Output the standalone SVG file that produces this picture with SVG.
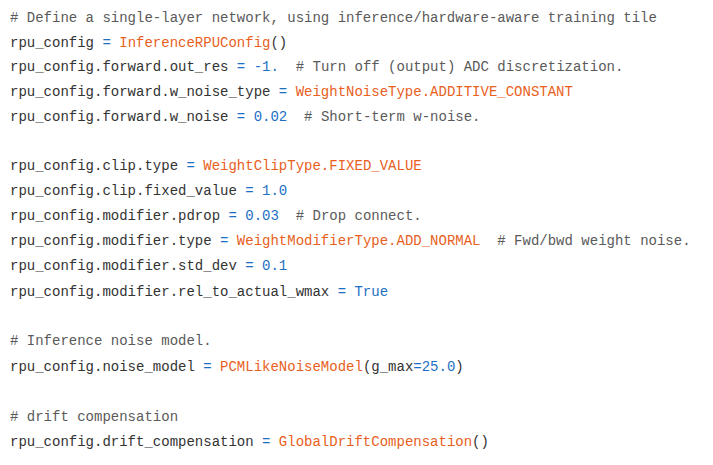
<svg xmlns="http://www.w3.org/2000/svg" width="713" height="465" viewBox="0 0 713 465">
<style>
text{font-family:"Liberation Mono","DejaVu Sans Mono",monospace;font-size:14px;fill:#333;white-space:pre}
.c{fill:#5a5a5a}.o{fill:#e8601c}.b{fill:#1d6fc4}
</style>
<rect width="713" height="465" fill="#fff"/>
<g id="code" xml:space="preserve">
<text x="10" y="22"><tspan class="c"># Define a single-layer network, using inference/hardware-aware training tile</tspan></text>
<text x="10" y="47">rpu_config <tspan class="b">=</tspan> <tspan class="o">InferenceRPUConfig</tspan>()</text>
<text x="10" y="71">rpu_config.forward.out_res <tspan class="b">=</tspan> <tspan class="b">-1.</tspan>  <tspan class="c"># Turn off (output) ADC discretization.</tspan></text>
<text x="10" y="96">rpu_config.forward.w_noise_type <tspan class="b">=</tspan> <tspan class="o">WeightNoiseType.ADDITIVE_CONSTANT</tspan></text>
<text x="10" y="121">rpu_config.forward.w_noise <tspan class="b">=</tspan> <tspan class="b">0.02</tspan>  <tspan class="c"># Short-term w-noise.</tspan></text>
<text x="10" y="170">rpu_config.clip.type <tspan class="b">=</tspan> <tspan class="o">WeightClipType.FIXED_VALUE</tspan></text>
<text x="10" y="195">rpu_config.clip.fixed_value <tspan class="b">=</tspan> <tspan class="b">1.0</tspan></text>
<text x="10" y="220">rpu_config.modifier.pdrop <tspan class="b">=</tspan> <tspan class="b">0.03</tspan>  <tspan class="c"># Drop connect.</tspan></text>
<text x="10" y="245">rpu_config.modifier.type <tspan class="b">=</tspan> <tspan class="o">WeightModifierType.ADD_NORMAL</tspan>  <tspan class="c"># Fwd/bwd weight noise.</tspan></text>
<text x="10" y="270">rpu_config.modifier.std_dev <tspan class="b">=</tspan> <tspan class="b">0.1</tspan></text>
<text x="10" y="296">rpu_config.modifier.rel_to_actual_wmax <tspan class="b">=</tspan> <tspan class="b">True</tspan></text>
<text x="10" y="345"><tspan class="c"># Inference noise model.</tspan></text>
<text x="10" y="371">rpu_config.noise_model <tspan class="b">=</tspan> <tspan class="o">PCMLikeNoiseModel</tspan>(g_max<tspan class="b">=25.0</tspan>)</text>
<text x="10" y="421"><tspan class="c"># drift compensation</tspan></text>
<text x="10" y="446">rpu_config.drift_compensation <tspan class="b">=</tspan> <tspan class="o">GlobalDriftCompensation</tspan>()</text>
</g>
</svg>
